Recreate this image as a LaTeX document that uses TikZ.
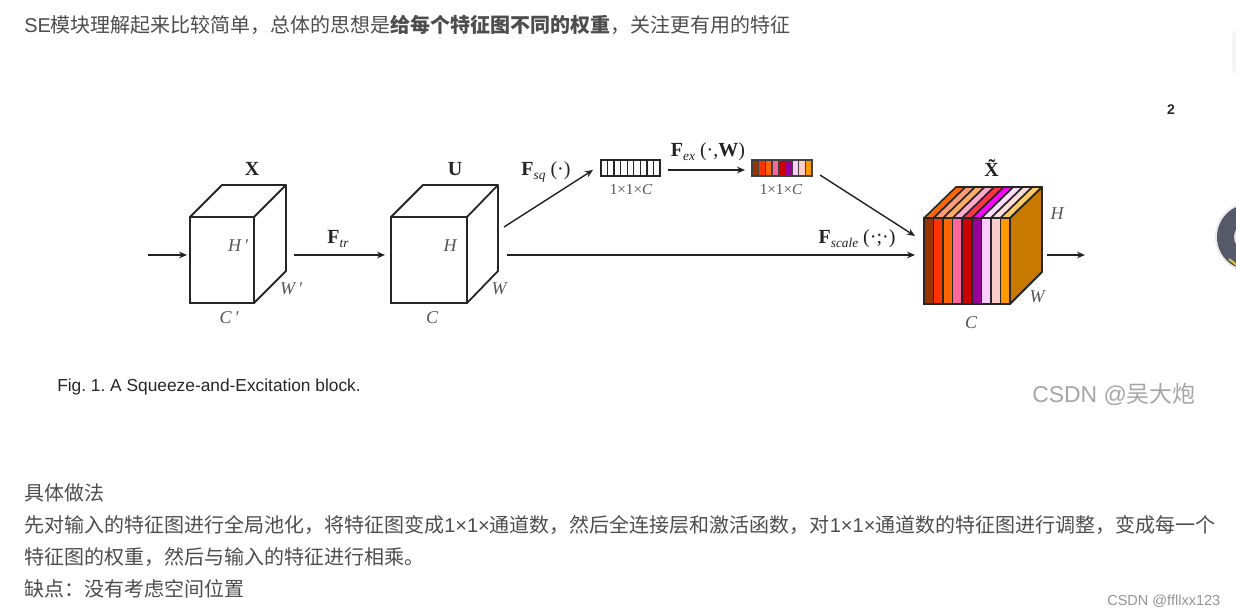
\documentclass[tikz,border=0pt]{standalone}
\usepackage{fontspec}
\setmainfont{Liberation Sans}
\newfontfamily\cjk{Noto Sans CJK SC}
\newfontfamily\rmf{Liberation Serif}
\usetikzlibrary{arrows.meta,calc}
\definecolor{txt}{HTML}{4D4D4D}
\definecolor{lab}{HTML}{222222}
\definecolor{soft}{HTML}{555555}
\definecolor{sidec}{HTML}{C87A00}
\definecolor{widget}{HTML}{565A68}
\definecolor{ystroke}{HTML}{D8C040}
\newcommand{\bodyt}[1]{{\cjk\fontsize{15}{20}\selectfont #1}}
\tikzset{
  x=0.75pt,y=-0.75pt,
  line/.style={inner sep=0,anchor=base west,text=txt,font=\fontsize{15}{20}\selectfont},
  fl/.style={inner sep=0,text=lab,font=\rmf\fontsize{15}{17}\selectfont},
  fs/.style={inner sep=0,text=soft,font=\rmf\itshape\fontsize{13.5}{16}\selectfont},
  sm/.style={inner sep=0,text=soft,font=\rmf\fontsize{11.4}{13}\selectfont},
  conn/.style={draw=lab,line width=1.05pt,-{Stealth[length=6pt,width=5pt]}},
  edge1/.style={draw=black!85,line width=1.35pt,line join=round},
  face/.style={draw=black!85,line width=1.35pt,inner sep=0,outer sep=0,minimum height=64.5pt},
}
\begin{document}
\frenchspacing
\begin{tikzpicture}
\useasboundingbox (0,0) rectangle (1236,615);
\fill[white] (0,0) rectangle (1236,615);

% page text
\node[line] (t1) at (24,32) {SE\bodyt{模块理解起来比较简单，总体的思想是\textbf{给每个特征图不同的权重}，关注更有用的特征}};
\node[line] (t2) at (24,500) {\bodyt{具体做法}};
\node[line] (t3) at (24,532) {\bodyt{先对输入的特征图进行全局池化，将特征图变成}1×1×\bodyt{通道数，然后全连接层和激活函数，对}1×1×\bodyt{通道数的特征图进行调整，变成每一个}};
\node[line] (t4) at (24,564) {\bodyt{特征图的权重，然后与输入的特征进行相乘。}};
\node[line] (t5) at (24,596) {\bodyt{缺点：没有考虑空间位置}};

% page number and caption
\node[inner sep=0,text=black!85,font=\bfseries\fontsize{10.5}{12}\selectfont] (pg) at (1171,110) {2};
\node[inner sep=0,anchor=base west,text=black!85,font=\fontsize{13}{15}\selectfont] (cap) at (57,391) {Fig. 1. A Squeeze-and-Excitation block.};

% cube X
\node[face,minimum width=48pt] (fx) at (222,260) {};
\draw[edge1] (fx.north west) -- (222,185) -- (286,185) -- (fx.north east);
\draw[edge1] (286,185) -- (286,271) -- (fx.south east);
% cube U
\node[face,minimum width=57pt] (fu) at (429,260) {};
\draw[edge1] (fu.north west) -- (423,185) -- (498,185) -- (fu.north east);
\draw[edge1] (498,185) -- (498,271) -- (fu.south east);

% cube X tilde
\fill[sidec] (1010,218) -- (1042,187) -- (1042,272) -- (1010,304) -- cycle;
\foreach \i/\fc/\tc in {0/993300/FF6600,1/FF3300/FF9977,2/FF6600/FFAA66,3/FF6699/FFAACC,4/CC0000/FF3344,5/990099/FF00FF,6/FFCCFF/FFDDFF,7/FFCCCC/FFDDDD,8/FF9900/FFCC66}{
  \definecolor{fc}{HTML}{\fc}\definecolor{tc}{HTML}{\tc}
  \pgfmathsetmacro{\xa}{924+\i*86/9}
  \pgfmathsetmacro{\xb}{924+(\i+1)*86/9}
  \draw[edge1,line width=1.2pt,fill=fc] (\xa,218) rectangle (\xb,304);
  \draw[edge1,line width=1.2pt,fill=tc] (\xa,218) -- (\xa+32,187) -- (\xb+32,187) -- (\xb,218) -- cycle;
}
\draw[edge1] (1010,218) -- (1042,187) -- (1042,272) -- (1010,304);
\node[inner sep=0,minimum width=64.5pt,minimum height=64.5pt,draw=black!85,line width=1.35pt] (ft) at (967,261) {};

% strips
\foreach \i in {0,...,8}{
  \pgfmathsetmacro{\xa}{601+\i*59/9}
  \draw[draw=black!85,line width=1pt] (\xa,160) rectangle (\xa+59/9,176);
}
\node[inner sep=0,minimum width=44.25pt,minimum height=12pt] (s1) at (630.5,168) {};
\foreach \i/\fc in {0/993300,1/FF3300,2/FF6600,3/FF6699,4/CC0000,5/990099,6/FFCCFF,7/FFCCCC,8/FF9900}{
  \definecolor{fc}{HTML}{\fc}
  \pgfmathsetmacro{\xa}{752+\i*60/9}
  \draw[draw=black!75,line width=0.8pt,fill=fc] (\xa,160) rectangle (\xa+60/9,176);
}
\node[inner sep=0,minimum width=45pt,minimum height=12pt] (s2) at (782,168) {};

% connector ends
\coordinate (in)  at (148,255);
\coordinate (inE) at (187,255);
\coordinate (trS) at (294,255);
\coordinate (trE) at (385,255);
\coordinate (sqS) at (504,227);
\coordinate (sqE) at (593,170);
\coordinate (exS) at (668,170);
\coordinate (exE) at (745,170);
\coordinate (scS) at (820,175);
\coordinate (scE) at (915,236);
\coordinate (loS) at (507,255);
\coordinate (loE) at (915,255);
\coordinate (outS) at (1047,255);
\coordinate (outE) at (1085,255);
\draw[conn] (in) -- (inE);
\draw[conn] (trS) -- (trE);
\draw[conn] (sqS) -- (sqE);
\draw[conn] (exS) -- (exE);
\draw[conn] (scS) -- (scE);
\draw[conn] (loS) -- (loE);
\draw[conn] (outS) -- (outE);

% labels
\node[fl] (lx) at (252,169) {\textbf{X}};
\node[fl] (lu) at (455,169) {\textbf{U}};
\node[fl,anchor=base] (lt) at (995,176.5) {\textbf{X̃}};
\node[fs] (l1) at (238,246) {H\,′};
\node[fs] (l2) at (291,289) {W\,′};
\node[fs] (l3) at (229,318) {C\,′};
\node[fs] (l4) at (450,246) {H};
\node[fs] (l5) at (499,289) {W};
\node[fs] (l6) at (432,318) {C};
\node[fs] (l7) at (1057,214) {H};
\node[fs] (l8) at (1037,297) {W};
\node[fs] (l9) at (971,323) {C};
\node[fl] (ftr) at (338,239) {\textbf{F}{\itshape\fontsize{10}{12}\selectfont\raisebox{-2.5pt}{tr}}};
\node[fl] (fsq) at (546,172) {\textbf{F}{\itshape\fontsize{10}{12}\selectfont\raisebox{-2.5pt}{sq}}\ (·)};
\node[fl] (fex) at (708,152) {\textbf{F}{\itshape\fontsize{10}{12}\selectfont\raisebox{-2.5pt}{ex}}\ (·,\textbf{W})};
\node[fl] (fsc) at (857,239) {\textbf{F}{\itshape\fontsize{10}{12}\selectfont\raisebox{-2.5pt}{scale}}\ (·;·)};
\node[sm] (d1) at (631,190) {1×1×{\itshape C}};
\node[sm] (d2) at (781,190) {1×1×{\itshape C}};

% watermarks
\node[inner sep=0,anchor=base west,text=black!35,font=\fontsize{17.2}{20}\selectfont] (wm1) at (1032,402) {CSDN @{\cjk 吴大炮}};
\node[inner sep=0,anchor=base west,text=black!42,font=\fontsize{10.9}{13}\selectfont] (wm2) at (1107,605) {CSDN @ffllxx123};

% page widgets at right edge
\fill[black!4,rounded corners=6pt] (1232,28) rectangle (1260,76);
\fill[black!8] (1250,237) circle (35);
\fill[widget] (1250,237) circle (33);
\fill[black!12] (1241,237) ellipse (7 and 10);
\draw[ystroke,line width=1.5pt] (1229,259) -- (1238,266);
\end{tikzpicture}
\end{document}
